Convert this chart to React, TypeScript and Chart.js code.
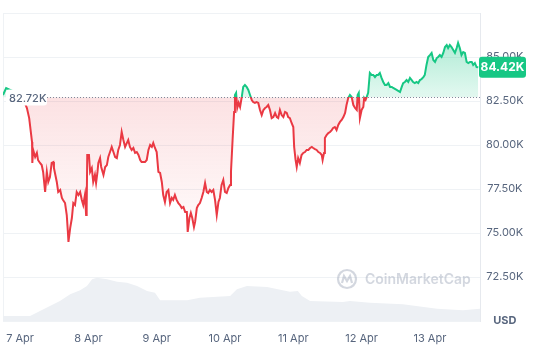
import React, { useEffect, useRef } from 'react';
import { Chart, registerables } from 'chart.js';

Chart.register(...registerables);

// hours since 7 Apr 00:00
const hours = [
  -6.0, -4.9, -1.8, 0.7, 2.4, 3.2, 4.2, 4.3, 4.6, 5.3, 5.9, 6.3, 7.0, 7.6, 8.1, 8.8, 9.4, 9.9, 10.5, 11.1,
  11.7, 11.9, 12.9, 13.4, 14.1, 14.7, 15.1, 15.8, 16.4, 16.8, 17.0, 17.6, 18.2, 18.7, 19.3, 19.9, 20.5, 21.1, 21.7, 22.2,
  22.8, 23.2, 23.4, 23.6, 24.2, 24.6, 25.2, 25.7, 26.3, 26.7, 27.2, 27.5, 28.1, 28.5, 29.3, 29.9, 30.5, 31.0, 31.6, 32.2,
  32.8, 33.4, 34.0, 34.5, 35.1, 35.7, 36.3, 36.9, 37.5, 38.0, 38.6, 39.2, 39.8, 40.4, 41.0, 41.6, 42.2, 42.7, 43.3, 43.9,
  44.5, 45.1, 45.7, 46.3, 46.8, 47.4, 48.0, 48.6, 49.2, 49.8, 50.3, 50.9, 51.5, 52.1, 52.7, 53.3, 53.8, 54.4, 55.0, 55.6,
  56.2, 56.8, 57.4, 58.0, 58.6, 58.9, 59.5, 60.0, 60.5, 61.1, 61.5, 62.1, 62.6, 63.2, 63.8, 64.4, 65.0, 65.6, 66.1, 66.7,
  67.3, 67.9, 68.5, 69.1, 69.7, 70.2, 70.8, 71.4, 72.0, 72.6, 73.2, 73.8, 74.1, 74.7, 75.2, 75.5, 75.9, 76.3, 76.8, 77.3,
  77.9, 78.4, 79.0, 79.6, 80.2, 80.8, 81.4, 81.9, 82.5, 83.1, 83.7, 84.3, 84.9, 85.5, 86.1, 86.6, 87.2, 87.8, 88.4, 89.0,
  89.6, 90.2, 90.7, 91.3, 91.9, 92.5, 93.1, 93.7, 94.2, 94.8, 95.4, 96.0, 96.3, 96.8, 97.2, 97.7, 98.3, 98.9, 99.5, 100.1,
  100.7, 101.3, 101.9, 102.5, 103.0, 103.6, 104.2, 104.8, 105.4, 106.0, 106.3, 106.8, 107.1, 107.7, 108.3, 108.9, 109.5, 110.0, 110.6, 111.2,
  111.8, 112.4, 113.0, 113.6, 114.2, 114.7, 115.3, 115.9, 116.5, 117.1, 117.7, 118.3, 118.6, 119.0, 119.4, 120.0, 120.6, 120.9, 121.4, 121.8,
  122.3, 122.9, 123.5, 124.1, 124.7, 125.3, 125.8, 126.4, 127.0, 127.6, 128.2, 128.8, 129.4, 130.0, 130.6, 131.1, 132.3, 133.5, 134.1, 134.6,
  135.2, 135.8, 136.4, 137.0, 137.6, 138.1, 138.7, 139.3, 139.9, 140.5, 141.1, 141.7, 142.2, 142.8, 143.4, 144.0, 144.6, 145.2, 145.8, 146.4,
  146.9, 147.5, 148.1, 148.7, 149.3, 149.9, 150.4, 151.0, 151.6, 152.2, 152.8, 153.4, 153.9, 154.5, 155.1, 155.7, 156.3, 156.9, 157.5, 158.1,
  158.7, 159.2, 159.8, 160.4, 161.0,
];

const prices = [
  82840, 83240, 83010, 82780, 82100, 81530, 80170, 78980, 79720, 79320, 79550, 79150, 78980, 78860, 78470, 77330, 78470, 77900, 78180, 78980,
  79030, 78690, 77900, 77330, 77440, 76990, 76880, 76700, 76020, 75060, 74490, 75280, 75850, 76700, 76590, 77330, 77160, 77330, 76880, 76590,
  77160, 76020, 76420, 79430, 79430, 78470, 78690, 77900, 78300, 77840, 78470, 78980, 79260, 78750, 78300, 78750, 78860, 79320, 79600, 79890,
  79600, 79320, 79260, 79720, 80000, 80740, 80280, 79890, 80110, 80280, 79890, 79720, 79830, 79550, 79600, 79430, 79150, 79030, 79030, 79030,
  79150, 79720, 80000, 79890, 80110, 79830, 79600, 78470, 78410, 77900, 77160, 76760, 77330, 77440, 76700, 76990, 76880, 77160, 76880, 76700,
  76590, 76420, 76480, 76190, 76190, 75060, 75850, 76140, 75850, 75340, 75630, 76420, 76590, 76700, 76990, 77330, 77840, 77330, 77270, 77440,
  77330, 77440, 76880, 76020, 76760, 76990, 77730, 78010, 77330, 77270, 77560, 77730, 78470, 80400, 81880, 82840, 82960, 82100, 82390, 82160,
  82730, 83300, 83410, 83300, 83130, 82840, 82560, 82440, 82390, 82440, 82390, 81990, 81700, 81990, 82100, 82160, 82270, 81990, 81530, 81590,
  81820, 81590, 81530, 81990, 81700, 81590, 81880, 81820, 81590, 81530, 81250, 81020, 79890, 79150, 78750, 79260, 78980, 79430, 79550, 79600,
  79720, 79720, 79830, 79890, 79830, 79770, 79720, 79600, 79550, 79430, 79150, 79550, 80400, 80570, 80680, 80740, 80850, 80970, 81020, 80850,
  81140, 81310, 81420, 81590, 81820, 82270, 82670, 82840, 82730, 82270, 82100, 81990, 82840, 82960, 81530, 81990, 82160, 82670, 82560, 82730,
  82960, 84090, 83980, 83980, 83860, 83980, 83980, 84090, 83810, 83580, 83410, 83410, 83520, 83300, 83300, 83240, 83130, 83010, 83300, 83520,
  83580, 83690, 83580, 83810, 83690, 83580, 83520, 83580, 83520, 83690, 83750, 83860, 83980, 84550, 85000, 85110, 85230, 84830, 84720, 84940,
  85000, 85110, 85000, 85230, 85570, 85680, 85510, 85680, 85570, 85400, 85230, 85510, 85800, 85510, 85110, 85280, 85230, 84720, 84660, 84720,
  84720, 84550, 84660, 84430, 84420,
];

const volHours = [
  -6, 2.5, 3.5, 7.0, 10.5, 14.0, 17.6, 21.1, 23.5, 25.3, 27.0, 30.6, 34.1, 37.6, 41.1, 44.6, 47.4, 49.2, 58.7, 63.2,
  73.8, 76.2, 79.7, 86.8, 94.8, 97.6, 99.0, 101.9, 113.4, 115.9, 122.9, 134.5, 146.5, 155.6, 161.6,
];
const volumes = [
  4.5, 4.5, 4.5, 9, 13.5, 18, 24, 27.6, 31.5, 37.5, 39, 37.5, 35.4, 34.5, 31.5, 27, 25.5, 18.6, 18.6, 21,
  22.5, 28.5, 31.5, 30.6, 26.4, 27, 22.5, 18, 17.1, 18, 16.5, 15, 11.1, 9.6, 11.1,
];

const dayTicks = [0, 24, 48, 72, 96, 120, 144];
const dayLabels = ['7 Apr', '8 Apr', '9 Apr', '10 Apr', '11 Apr', '12 Apr', '13 Apr'];
const priceTicks = [70000, 72500, 75000, 77500, 80000, 82500, 85000, 87500];
const BASELINE = 82720;

const GREEN = '#16c784';
const RED = '#ea3943';
const TEXT = '#58667e';
const GRID = '#eff2f5';
const FONT = "Inter, 'Noto Sans', sans-serif";
const fmtK = (v: number) => (v / 1000).toFixed(2) + 'K';

export default function App() {
  const ref = useRef<HTMLCanvasElement>(null);

  useEffect(() => {
    document.body.style.margin = '0';
    const canvas = ref.current;
    if (!canvas) return;

    const basePx = (chart: any) => chart.scales.y.getPixelForValue(BASELINE);

    const lineColor = (c: any) => {
      const chart = c.chart;
      const area = chart.chartArea;
      if (!area || !chart.scales.y) return RED;
      const g = chart.ctx.createLinearGradient(0, area.top, 0, area.bottom);
      let r = (basePx(chart) - area.top) / (area.bottom - area.top);
      r = Math.min(1, Math.max(0, r));
      g.addColorStop(0, GREEN);
      g.addColorStop(r, GREEN);
      g.addColorStop(r, RED);
      g.addColorStop(1, RED);
      return g;
    };
    const greenFill = (c: any) => {
      const chart = c.chart;
      const area = chart.chartArea;
      if (!area || !chart.scales.y) return 'rgba(22,199,132,0.2)';
      const top = chart.scales.y.getPixelForValue(86000);
      const g = chart.ctx.createLinearGradient(0, top, 0, basePx(chart));
      g.addColorStop(0, 'rgba(22,199,132,0.34)');
      g.addColorStop(1, 'rgba(22,199,132,0.12)');
      return g;
    };
    const redFill = (c: any) => {
      const chart = c.chart;
      const area = chart.chartArea;
      if (!area || !chart.scales.y) return 'rgba(234,57,67,0.08)';
      const bottom = chart.scales.y.getPixelForValue(74500);
      const g = chart.ctx.createLinearGradient(0, basePx(chart), 0, bottom);
      g.addColorStop(0, 'rgba(234,57,67,0.15)');
      g.addColorStop(1, 'rgba(234,57,67,0.01)');
      return g;
    };

    const priceData = hours.map((h, i) => ({ x: h, y: prices[i] }));
    const volData = volHours.map((h, i) => ({ x: h, y: volumes[i] }));

    const overlay = {
      id: 'overlay',
      beforeDatasetsDraw(chart: any) {
        const { ctx, chartArea } = chart;
        ctx.save();
        // left border
        ctx.strokeStyle = GRID;
        ctx.lineWidth = 1;
        ctx.beginPath();
        ctx.moveTo(chartArea.left + 0.5, chartArea.top);
        ctx.lineTo(chartArea.left + 0.5, chartArea.bottom);
        ctx.stroke();
        // watermark
        const cx = 347, cy = 279, r = 9;
        ctx.strokeStyle = 'rgba(140,150,170,0.38)';
        ctx.lineWidth = 2.2;
        ctx.beginPath();
        ctx.arc(cx, cy, r, 0, Math.PI * 2);
        ctx.stroke();
        ctx.beginPath();
        ctx.moveTo(cx - 5, cy + 4);
        ctx.lineTo(cx - 3, cy - 3);
        ctx.lineTo(cx, cy + 2);
        ctx.lineTo(cx + 3, cy - 3);
        ctx.lineTo(cx + 5, cy + 4);
        ctx.stroke();
        ctx.fillStyle = 'rgba(140,150,170,0.38)';
        ctx.font = `600 14px ${FONT}`;
        ctx.textAlign = 'left';
        ctx.textBaseline = 'middle';
        ctx.fillText('CoinMarketCap', 365, cy + 1);
        ctx.restore();
      },
      afterDatasetsDraw(chart: any) {
        const { ctx, chartArea } = chart;
        const y = Math.round(basePx(chart)) + 0.5;
        ctx.save();
        ctx.strokeStyle = 'rgba(88,102,126,0.75)';
        ctx.lineWidth = 1;
        ctx.setLineDash([1, 2]);
        ctx.beginPath();
        ctx.moveTo(47, y);
        ctx.lineTo(chartArea.right, y);
        ctx.stroke();
        ctx.setLineDash([]);
        ctx.fillStyle = '#ffffff';
        ctx.beginPath();
        ctx.roundRect(6, y - 8, 41, 16, 3);
        ctx.fill();
        ctx.fillStyle = TEXT;
        ctx.font = `500 11px ${FONT}`;
        ctx.textAlign = 'left';
        ctx.textBaseline = 'middle';
        ctx.fillText(fmtK(BASELINE), 9, y + 1);
        ctx.restore();
      },
      afterDraw(chart: any) {
        const { ctx, chartArea } = chart;
        const last = prices[prices.length - 1];
        const y = chart.scales.y.getPixelForValue(last);
        ctx.save();
        ctx.fillStyle = GREEN;
        ctx.beginPath();
        ctx.roundRect(chartArea.right - 1, y - 10.5, 47, 21, 3);
        ctx.fill();
        ctx.fillStyle = '#ffffff';
        ctx.font = `700 12px ${FONT}`;
        ctx.textAlign = 'center';
        ctx.textBaseline = 'middle';
        ctx.fillText(fmtK(last), chartArea.right + 22.5, y + 0.5);
        ctx.restore();
      },
    };

    const chart = new Chart(canvas, {
      type: 'line',
      data: {
        datasets: [
          {
            label: 'price',
            data: priceData,
            borderColor: lineColor,
            backgroundColor: greenFill,
            borderWidth: 2,
            pointRadius: 0,
            tension: 0,
            fill: { target: { value: BASELINE }, below: 'rgba(0,0,0,0)' },
            yAxisID: 'y',
            order: 0,
          } as any,
          {
            label: 'priceBelow',
            data: priceData,
            borderColor: 'rgba(0,0,0,0)',
            backgroundColor: redFill,
            borderWidth: 1,
            pointRadius: 0,
            tension: 0,
            fill: { target: { value: BASELINE }, above: 'rgba(0,0,0,0)' },
            yAxisID: 'y',
            order: 1,
          } as any,
          {
            label: 'volume',
            data: volData,
            borderColor: 'rgba(0,0,0,0)',
            backgroundColor: '#edf0f4',
            borderWidth: 0,
            pointRadius: 0,
            tension: 0,
            fill: 'start',
            yAxisID: 'yv',
            order: 2,
          } as any,
        ],
      },
      options: {
        responsive: false,
        animation: false,
        devicePixelRatio: 1,
        layout: { padding: { left: 3, top: 13, right: 0, bottom: 0 } },
        plugins: { legend: { display: false }, tooltip: { enabled: false } },
        scales: {
          x: {
            type: 'linear',
            min: -6,
            max: 161.6,
            grid: { display: false },
            border: { display: false },
            afterBuildTicks: (scale: any) => {
              scale.ticks = dayTicks.map((v) => ({ value: v }));
            },
            afterFit: (scale: any) => {
              scale.height = 30;
            },
            ticks: {
              autoSkip: false,
              maxRotation: 0,
              padding: 3,
              color: TEXT,
              font: { family: FONT, size: 11 },
              callback: (v: any) => {
                const i = dayTicks.indexOf(Number(v));
                return i >= 0 ? dayLabels[i] : '';
              },
            },
          },
          y: {
            position: 'right',
            min: 70000,
            max: 87500,
            grid: { color: GRID, drawTicks: false },
            border: { display: true, color: '#e6e9ee' },
            afterBuildTicks: (scale: any) => {
              scale.ticks = priceTicks.map((v) => ({ value: v }));
            },
            afterFit: (scale: any) => {
              scale.width = 60;
            },
            ticks: {
              padding: 6,
              crossAlign: 'center',
              color: TEXT,
              font: (c: any) =>
                c.tick && c.tick.value === 70000
                  ? { family: FONT, size: 11, weight: '700' }
                  : { family: FONT, size: 11 },
              callback: (v: any) => {
                const n = Number(v);
                if (n === 70000) return 'USD';
                if (n === 87500) return '';
                return fmtK(n);
              },
            },
          },
          yv: {
            display: false,
            min: 0,
            max: 277,
          },
        },
      } as any,
      plugins: [overlay],
    });

    return () => chart.destroy();
  }, []);

  return (
    <div style={{ width: 540, height: 351 }}>
      <canvas ref={ref} width={540} height={351} style={{ display: 'block' }} />
    </div>
  );
}
